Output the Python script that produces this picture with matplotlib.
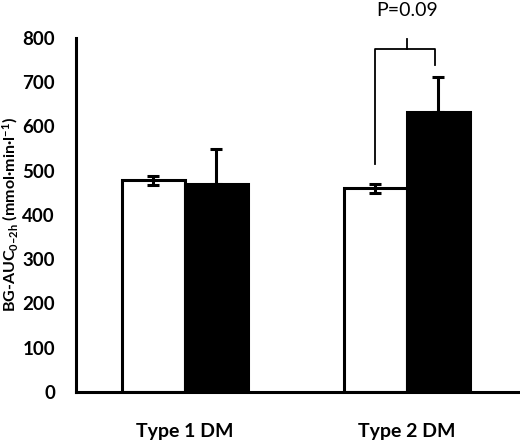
import matplotlib
matplotlib.use("Agg")
import matplotlib.pyplot as plt
import numpy as np

categories = ["Type 1 DM", "Type 2 DM"]
white_vals = [478, 460]
white_err = [11, 10]
black_vals = [469, 632]
black_err = [80, 80]
yticks = [0, 100, 200, 300, 400, 500, 600, 700, 800]
p_text = "P=0.09"

plt.rcParams['font.family'] = ['Lato', 'DejaVu Sans']
plt.rcParams['mathtext.fontset'] = 'custom'
plt.rcParams['mathtext.rm'] = 'Lato:bold'
plt.rcParams['mathtext.bf'] = 'Lato:bold'
plt.rcParams['mathtext.it'] = 'Lato:bold'

fig = plt.figure(figsize=(5.2, 4.45), dpi=100)
ax = fig.add_axes([0.146, 0.119, 0.854, 0.796])

x = np.arange(len(categories))
w = 0.284
ax.bar(x - w/2, white_vals, w, color="white", edgecolor="black", linewidth=2.2, zorder=2)
ax.bar(x + w/2, black_vals, w, color="black", edgecolor="black", linewidth=2.2, zorder=2)
ax.errorbar(x - w/2, white_vals, yerr=white_err, fmt="none", ecolor="black",
            elinewidth=2.2, capsize=4, capthick=2.2, zorder=3)
ax.errorbar(x + w/2, black_vals, yerr=[[0, 0], black_err], fmt="none", ecolor="black",
            elinewidth=2.2, capsize=4, capthick=2.2, zorder=3)

# significance bracket for Type 2 DM
xl = x[1] - w/2
xr = x[1] + w/2 - 0.015
ax.plot([xl, xl, xr, xr], [515, 775, 775, 739], color="black", lw=1.3, clip_on=False)
ax.plot([x[1], x[1]], [775, 798], color="black", lw=1.3, clip_on=False)
ax.text(x[1], 862, p_text, ha="center", va="center", fontsize=14, clip_on=False)

ax.set_xlim(-0.49, 1.51)
ax.set_ylim(0, 800)
ax.set_yticks(yticks)
ax.set_yticklabels([str(t) for t in yticks], fontsize=13.5, fontweight="bold")
ax.set_xticks(x)
ax.set_xticklabels(categories, fontsize=14, fontweight="bold")
ax.tick_params(axis="both", length=0)
ax.tick_params(axis="y", pad=15)
ax.tick_params(axis="x", pad=22)
for s in ["top", "right"]:
    ax.spines[s].set_visible(False)
ax.spines["left"].set_linewidth(2.2)
ax.spines["bottom"].set_linewidth(2.2)
ax.set_ylabel(r"BG-AUC$_{0\text{–}2h}$ (mmol·min·l$^{-1}$)", fontsize=11.5, fontweight="bold")
ax.yaxis.set_label_coords(-0.125, 0.5)

fig.savefig("out.png", dpi=100)
